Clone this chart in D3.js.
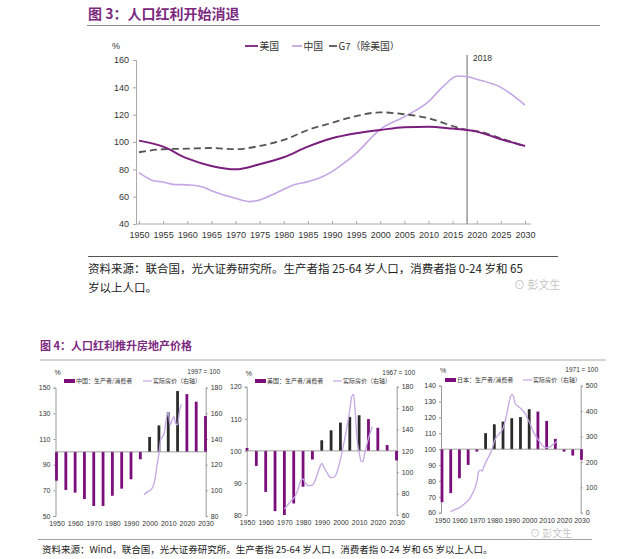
<!DOCTYPE html>
<html>
<head>
<meta charset="utf-8">
<script src="https://cdn.jsdelivr.net/npm/d3@7"></script>
<style>
  body { margin: 0; background: #fff; }
  svg { display: block; font-family: "Liberation Sans", "Noto Sans CJK SC", sans-serif; }
  .cjk { font-family: "Noto Sans CJK SC", sans-serif; }
</style>
</head>
<body>
<svg id="chart" width="624" height="559"></svg>
<script>
// ---- Figure 3: producer / consumer ratio (%)
const topYears = [1950, 1955, 1960, 1965, 1970, 1975, 1980, 1985, 1990, 1995, 2000, 2005, 2010, 2015, 2018, 2020, 2025, 2030];
const usSeries = [101, 96.6, 88, 82.5, 80, 83.7, 88.8, 96.6, 102.7, 106.4, 108.8, 110.8, 111.2, 109.8, 108.8, 107.6, 102, 97.1];
const g7Series = [92.5, 94.7, 95.1, 95.6, 94.7, 97.1, 101.5, 108.8, 114, 119, 121.7, 120.3, 117.4, 111.7, 108.8, 108, 102.7, 96.6];
const cnYears = [1950, 1953, 1955, 1957, 1960, 1963, 1965, 1970, 1973, 1975, 1978, 1980, 1982, 1985, 1988, 1990, 1992, 1995, 2000, 2005, 2010, 2013, 2016, 2018, 2020, 2025, 2030];
const cnSeries = [77.6, 71.7, 70.7, 69, 68.6, 67.3, 64.4, 58.8, 56.4, 57.6, 62, 65.4, 68.5, 71, 74.6, 78.3, 83.2, 91.7, 109.3, 118.5, 129.5, 140.5, 148.3, 147.8, 145.9, 140, 127];
const topYTicks = [40, 60, 80, 100, 120, 140, 160];
const topXTicks = d3.range(1950, 2031, 5);
const topLegend = ["美国", "中国", "G7（除美国）"];

// ---- Figure 4: producer/consumer bars and real house prices
const barYears = d3.range(1950, 2031, 5);
const cnRatio = [77.5, 70.3, 68.2, 63.2, 57.8, 57.8, 65.8, 71.3, 78.6, 94.2, 111.6, 120.6, 130.8, 147.4, 145, 139.1, 127.9];
const usRatio = [100.9, 95.3, 87.2, 81.2, 80, 83.6, 88.8, 97.3, 103.3, 106.4, 108.8, 110.6, 111.1, 109.9, 107.2, 101.8, 97];
const jpRatio = [66.6, 72.3, 81.7, 90.1, 98.5, 110.1, 115.7, 117.4, 119.5, 120.2, 125.2, 123.7, 117.8, 106.5, 98.5, 96, 93.3];
const cnPeakYears = [2000, 2005, 2010, 2015];
const usPeakYears = [1990, 1995, 2000, 2005, 2010];
const jpPeakYears = [1975, 1980, 1985, 1990, 1995, 2000];

const cnPriceYears = [1997, 1999, 2001, 2003, 2004, 2005, 2006, 2007, 2008, 2009, 2010, 2011, 2012, 2013, 2014, 2015, 2016, 2017];
const cnPrice = [96.5, 99, 101, 109.4, 119.7, 128.8, 140, 141.8, 145.7, 156, 160.5, 151, 154.8, 157.4, 152.2, 151, 161.3, 167];
const usPriceYears = [1970, 1972, 1974, 1975, 1977, 1979, 1980, 1981, 1983, 1985, 1987, 1989, 1990, 1991, 1993, 1995, 1997, 1999, 2001, 2003, 2005, 2006, 2007, 2008, 2009, 2010, 2011, 2012, 2013, 2015, 2017];
const usPrice = [65.6, 70, 74, 75.6, 82.4, 92.7, 93.7, 90.5, 87.4, 88, 94.9, 105.2, 108.3, 105.2, 99, 94.9, 95.8, 105.2, 119.8, 137.9, 158.2, 170.6, 172.8, 153.5, 128.6, 119.2, 110.5, 109.9, 117.7, 131.7, 142.6];
const jpPriceYears = [1955, 1958, 1960, 1962, 1964, 1966, 1968, 1970, 1971, 1972, 1973, 1974, 1976, 1978, 1979, 1980, 1981, 1983, 1985, 1987, 1989, 1990, 1991, 1992, 1994, 1996, 1998, 1999, 2000, 2002, 2004, 2006, 2008, 2010, 2012, 2014, 2016];
const jpPrice = [4, 14, 20, 30, 41, 56, 83, 122, 161, 168, 164, 181, 211, 237, 256, 282, 295, 312, 332, 384, 450, 466, 457, 430, 417, 404, 387, 371, 358, 325, 299, 280, 262, 256, 260, 270, 282];

const barXTicks = d3.range(1950, 2031, 10);
const cnLeftTicks = [50, 70, 90, 110, 130, 150];
const cnRightTicks = [80, 100, 120, 140, 160, 180];
const usLeftTicks = [80, 90, 100, 110, 120];
const usRightTicks = [60, 80, 100, 120, 140, 160, 180];
const jpLeftTicks = [60, 70, 80, 90, 100, 110, 120, 130, 140];
const jpRightTicks = [0, 100, 200, 300, 400, 500];

const purple = "#7a0f7c", lilac = "#c5a6e4", usColor = "#7a1f7e", g7Color = "#555", titleColor = "#7b2a80";

const svg = d3.select("#chart");

// ================= Figure 3 =================
svg.append("text").attr("class", "cjk").attr("x", 88).attr("y", 19)
  .attr("font-size", 14).attr("font-weight", "bold").attr("fill", titleColor)
  .text("图 3：人口红利开始消退");
svg.append("line").attr("x1", 87).attr("x2", 600).attr("y1", 25.5).attr("y2", 25.5)
  .attr("stroke", "#888").attr("stroke-width", 1);

const tx = d3.scaleLinear().domain([1950, 2030]).range([139, 525]);
const ty = d3.scaleLinear().domain([40, 160]).range([224, 60]);

const topG = svg.append("g");

const yAx = topG.append("g").attr("transform", "translate(136,0)")
  .call(d3.axisLeft(ty).tickValues(topYTicks).tickSize(3).tickPadding(4));
const xAx = topG.append("g").attr("transform", "translate(0,224)")
  .call(d3.axisBottom(tx).tickValues(topXTicks).tickSize(-3).tickPadding(8).tickFormat(d3.format("d")));
xAx.select(".domain").attr("d", "M136,0H531");
[yAx, xAx].forEach(a => {
  a.selectAll("path,line").attr("stroke", "#aaa");
  a.selectAll("text").attr("font-size", 9).attr("fill", "#333");
});

topG.append("text").attr("x", 112).attr("y", 49).attr("font-size", 9).attr("fill", "#333").text("%");

// 2018 marker
topG.append("line").attr("x1", tx(2018)).attr("x2", tx(2018)).attr("y1", 55).attr("y2", 224)
  .attr("stroke", "#999").attr("stroke-width", 1.5);
topG.append("text").attr("x", 473).attr("y", 61).attr("font-size", 8.5).attr("fill", "#333").text("2018");

const topLine = (xs) => d3.line().curve(d3.curveMonotoneX).x((d, i) => tx(xs[i])).y(d => ty(d));

topG.append("path").datum(cnSeries).attr("d", topLine(cnYears))
  .attr("fill", "none").attr("stroke", lilac).attr("stroke-width", 1.6);
topG.append("path").datum(g7Series).attr("d", topLine(topYears))
  .attr("fill", "none").attr("stroke", g7Color).attr("stroke-width", 1.8).attr("stroke-dasharray", "7,4");
topG.append("path").datum(usSeries).attr("d", topLine(topYears))
  .attr("fill", "none").attr("stroke", usColor).attr("stroke-width", 2);

// legend
const legItems = [
  { x: 245, w: 13, color: usColor },
  { x: 292, w: 10, color: lilac },
  { x: 329, w: 8, color: g7Color }
];
legItems.forEach((it, i) => {
  topG.append("line").attr("x1", it.x).attr("x2", it.x + it.w).attr("y1", 46).attr("y2", 46)
    .attr("stroke", it.color).attr("stroke-width", 1.8);
  topG.append("text").attr("class", "cjk").attr("x", it.x + it.w + 1.5).attr("y", 49.5)
    .attr("font-size", 9.8).attr("fill", "#333").text(topLegend[i]);
});

// source line
svg.append("line").attr("x1", 88).attr("x2", 558).attr("y1", 256.5).attr("y2", 256.5)
  .attr("stroke", "#555").attr("stroke-width", 1);
svg.append("text").attr("class", "cjk").attr("x", 88).attr("y", 273).attr("font-size", 11.5).attr("fill", "#222")
  .text("资料来源：联合国，光大证券研究所。生产者指 25-64 岁人口，消费者指 0-24 岁和 65");
svg.append("text").attr("class", "cjk").attr("x", 88).attr("y", 292).attr("font-size", 11.5).attr("fill", "#222")
  .text("岁以上人口。");
svg.append("text").attr("class", "cjk").attr("x", 514).attr("y", 289).attr("font-size", 11).attr("fill", "#c4c4c4")
  .text("⊙ 彭文生");

// ================= Figure 4 =================
svg.append("text").attr("class", "cjk").attr("x", 40).attr("y", 350)
  .attr("font-size", 11).attr("font-weight", "bold").attr("fill", titleColor)
  .text("图 4：人口红利推升房地产价格");
svg.append("line").attr("x1", 40).attr("x2", 606).attr("y1", 360).attr("y2", 360)
  .attr("stroke", "#aaa").attr("stroke-width", 1);

const panels = [
  { name: "中国：生产者/消费者", base: "1997 = 100", ratio: cnRatio, peak: cnPeakYears, px: cnPriceYears, price: cnPrice,
    left: [55.5, 205.7], xr: [56.5, 205.5], yTop: 387.7, yBot: 516, lDom: [50, 150], rDom: [80, 180],
    lTicks: cnLeftTicks, rTicks: cnRightTicks, legX: 64, lineX: 143, legY: 381, baseX: 220, pctY: 375 },
  { name: "美国：生产者/消费者", base: "1967 = 100", ratio: usRatio, peak: usPeakYears, px: usPriceYears, price: usPrice,
    left: [246.7, 396.7], xr: [247, 396.5], yTop: 386.7, yBot: 515, lDom: [80, 120], rDom: [60, 180],
    lTicks: usLeftTicks, rTicks: usRightTicks, legX: 255, lineX: 333, legY: 381, baseX: 415, pctY: 375.5 },
  { name: "日本：生产者/消费者", base: "1971 = 100", ratio: jpRatio, peak: jpPeakYears, px: jpPriceYears, price: jpPrice,
    left: [441, 580.7], xr: [442, 581.5], yTop: 385.7, yBot: 512.7, lDom: [60, 140], rDom: [0, 500],
    lTicks: jpLeftTicks, rTicks: jpRightTicks, legX: 445, lineX: 523, legY: 380, baseX: 598, pctY: 373 }
];

panels.forEach(p => {
  const g = svg.append("g");
  const x = d3.scaleLinear().domain([1950, 2030]).range(p.xr);
  const yl = d3.scaleLinear().domain(p.lDom).range([p.yBot, p.yTop]);
  const yr = d3.scaleLinear().domain(p.rDom).range([p.yBot, p.yTop]);

  const la = g.append("g").attr("transform", `translate(${p.left[0]},0)`)
    .call(d3.axisLeft(yl).tickValues(p.lTicks).tickSize(2).tickPadding(3));
  const ra = g.append("g").attr("transform", `translate(${p.left[1]},0)`)
    .call(d3.axisRight(yr).tickValues(p.rTicks).tickSize(2).tickPadding(3));
  const xa = g.append("g").attr("transform", `translate(0,${p.yBot})`)
    .call(d3.axisBottom(x).tickValues(barXTicks).tickSize(0).tickPadding(5).tickFormat(d3.format("d")));
  xa.select(".domain").remove();
  [la, ra, xa].forEach(a => {
    a.selectAll("path,line").attr("stroke", "#999");
    a.selectAll("text").attr("font-size", 7).attr("fill", "#333");
  });

  // bars around 100
  g.selectAll("rect.bar").data(p.ratio).join("rect").attr("class", "bar")
    .attr("x", (d, i) => x(barYears[i]) - 1.4)
    .attr("width", 2.8)
    .attr("y", d => yl(Math.max(d, 100)))
    .attr("height", d => Math.abs(yl(d) - yl(100)))
    .attr("fill", (d, i) => p.peak.includes(barYears[i]) ? "#2b2b2b" : purple);

  g.append("line").attr("x1", p.left[0]).attr("x2", p.left[1]).attr("y1", yl(100)).attr("y2", yl(100))
    .attr("stroke", "#888").attr("stroke-width", 0.8);

  g.append("path").datum(p.price)
    .attr("d", d3.line().curve(d3.curveMonotoneX).x((d, i) => x(p.px[i])).y(d => yr(d)))
    .attr("fill", "none").attr("stroke", lilac).attr("stroke-width", 1.3);

  // labels & legend
  g.append("text").attr("x", p.left[0] - 1).attr("y", p.pctY).attr("font-size", 7).attr("fill", "#333").text("%");
  g.append("text").attr("x", p.baseX).attr("y", p.pctY - 1).attr("text-anchor", "end")
    .attr("font-size", 6.5).attr("fill", "#333").text(p.base);
  g.append("rect").attr("x", p.legX).attr("y", p.legY - 2).attr("width", 11).attr("height", 4).attr("fill", purple);
  g.append("text").attr("class", "cjk").attr("x", p.legX + 12).attr("y", p.legY + 2.2)
    .attr("font-size", 6).attr("fill", "#333").text(p.name);
  g.append("line").attr("x1", p.lineX).attr("x2", p.lineX + 9).attr("y1", p.legY).attr("y2", p.legY)
    .attr("stroke", lilac).attr("stroke-width", 1.2);
  g.append("text").attr("class", "cjk").attr("x", p.lineX + 10).attr("y", p.legY + 2.2)
    .attr("font-size", 6).attr("fill", "#333").text("实际房价（右轴）");
});

// footer
svg.append("line").attr("x1", 38).attr("x2", 592).attr("y1", 539.5).attr("y2", 539.5)
  .attr("stroke", "#888").attr("stroke-width", 0.8);
svg.append("text").attr("class", "cjk").attr("x", 530).attr("y", 537).attr("font-size", 10).attr("fill", "#c4c4c4")
  .text("⊙ 彭文生");
svg.append("text").attr("class", "cjk").attr("x", 42).attr("y", 553).attr("font-size", 9.5).attr("fill", "#222")
  .text("资料来源：Wind，联合国，光大证券研究所。生产者指 25-64 岁人口，消费者指 0-24 岁和 65 岁以上人口。");
</script>
</body>
</html>
